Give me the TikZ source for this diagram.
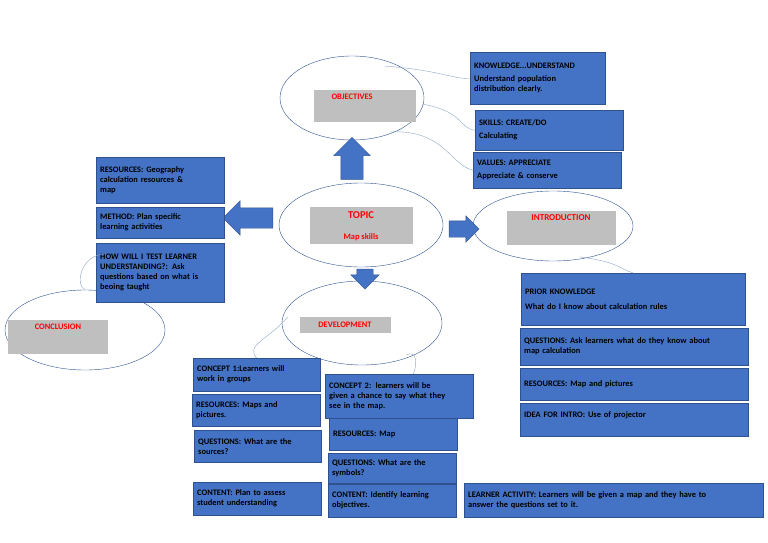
\documentclass[tikz,border=0pt]{standalone}
\usepackage{fontspec}
\setmainfont{Carlito}
\usetikzlibrary{shapes.arrows,shapes.geometric,positioning}
\definecolor{boxblue}{HTML}{4472C4}
\definecolor{boxline}{HTML}{2F528F}
\definecolor{linkgray}{HTML}{8EA6C8}
\begin{document}
\begin{tikzpicture}[x=1pt,y=-1pt,
        box/.style={draw=boxline, fill=boxblue, anchor=north west, align=left, inner sep=4pt,
                font=\fontsize{8.4}{10}\selectfont\bfseries, text=black},
        oval/.style={draw=boxline, ellipse, thin},
        tag/.style={fill=black!25, anchor=north west, inner sep=0pt},
        lbl/.style={text=red, font=\fontsize{8.4}{9}\selectfont\bfseries},
        blk/.style={single arrow, draw=boxline, fill=boxblue, minimum height=#1,
                inner xsep=0pt, inner ysep=10pt, single arrow head extend=7pt},
        link/.style={draw=linkgray, thin}]
        \useasboundingbox (0,0) rectangle (768,543);
        % the five ovals
        \node[oval, minimum width=144, minimum height=84] (obj) at (352,98) {};
        \node[oval, minimum width=164, minimum height=84] (topic) at (361,225) {};
        \node[oval, minimum width=160, minimum height=70] (intro) at (553,226) {};
        \node[oval, minimum width=160, minimum height=84] (dev) at (362,323) {};
        \node[oval, minimum width=160, minimum height=80] (concl) at (85,330) {};

        % grey labels inside the ovals
        \node[tag, minimum width=102, minimum height=32] (tobj) at (314,90) {};
        \node[lbl] (nobj) at (352,97) {OBJECTIVES};
        \node[tag, minimum width=103, minimum height=37] (ttopic) at (310,207) {};
        \node[lbl, font=\fontsize{10.5}{11}\selectfont\bfseries] (ntopic) at (361,215) {TOPIC};
        \node[lbl] (nmap) at (361,237) {Map skills};
        \node[tag, minimum width=109, minimum height=34] (tintro) at (507,211) {};
        \node[lbl, font=\fontsize{9}{9}\selectfont\bfseries] (nintro) at (561,218) {INTRODUCTION};
        \node[tag, minimum width=91, minimum height=16] (tdev) at (300,317) {};
        \node[lbl] (ndev) at (345,325) {DEVELOPMENT};
        \node[tag, minimum width=100, minimum height=34] (tconcl) at (8,320) {};
        \node[lbl] (nconcl) at (58,327) {CONCLUSION};

        % block arrows out of the topic
        \node[blk=42, rotate=90, inner ysep=11pt] (aup) at (352,164) {};
        \node[blk=50, rotate=180] (aleft) at (253,218) {};
        \node[blk=30, inner ysep=8pt, single arrow head extend=5pt] (aright) at (460,229) {};
        \node[blk=20, rotate=-90, inner ysep=8pt, single arrow head extend=6pt] (adown) at (365,275) {};

        % objectives
        \node[box, text width=127, minimum height=52] (know) at (470,52)
                {KNOWLEDGE...UNDERSTAND\\[3pt]Understand population\\distribution clearly.};
        \node[box, text width=140, minimum height=40] (skill) at (475,110) {SKILLS: CREATE/DO\\[3pt]Calculating};
        \node[box, text width=140, minimum height=36] (value) at (473,152) {VALUES: APPRECIATE\\[3pt]Appreciate \& conserve};

        % left side
        \node[box, text width=120, minimum height=46] (res) at (96,157) {RESOURCES: Geography\\calculation resources \&\\map};
        \node[box, text width=120, minimum height=31] (meth) at (96,207) {METHOD: Plan specific\\learning activities};
        \node[box, text width=120, minimum height=59] (test) at (96,243)
                {HOW WILL I TEST LEARNER\\UNDERSTANDING?: Ask\\questions based on what is\\beoing taught};

        % introduction
        \node[box, text width=216, minimum height=52] (prior) at (521,273) {PRIOR KNOWLEDGE\\[5pt]What do I know about calculation rules};
        \node[box, text width=220, minimum height=37] (qint) at (520,328) {QUESTIONS: Ask learners what do they know about\\map calculation};
        \node[box, text width=220, minimum height=32] (rint) at (520,368) {RESOURCES: Map and pictures};
        \node[box, text width=220, minimum height=33] (idea) at (520,403) {IDEA FOR INTRO: Use of projector\\~};

        % development
        \node[box, text width=119, minimum height=33] (con1) at (193,358) {CONCEPT 1:Learners will\\work in groups};
        \node[box, text width=120, minimum height=32] (rdev) at (192,394) {RESOURCES: Maps and\\pictures.};
        \node[box, text width=119, minimum height=32] (qdev) at (194,430) {QUESTIONS: What are the\\sources?};
        \node[box, text width=120, minimum height=33] (cont1) at (193,482) {CONTENT: Plan to assess\\student understanding};
        \node[box, text width=140, minimum height=44] (con2) at (325,374) {CONCEPT 2: learners will be\\given a chance to say what they\\see in the map.};
        \node[box, text width=120, minimum height=32] (rmap) at (329,418) {RESOURCES: Map};
        \node[box, text width=120, minimum height=30] (qsym) at (328,453) {QUESTIONS: What are the\\symbols?};
        \node[box, text width=120, minimum height=33] (cont2) at (328,484) {CONTENT: Identify learning\\objectives.};
        \node[box, text width=291, minimum height=34] (act) at (464,483)
                {LEARNER ACTIVITY: Learners will be given a map and they have to\\answer the questions set to it.};

        % thin curved links
        \coordinate (devlo) at ([xshift=44pt,yshift=-32pt]dev.center);
        \draw[link] (obj.north east) ++(-18,-2) .. controls (440,70) and (455,80) .. (know.west);
        \draw[link] (obj.east) ++(-2,6) .. controls (465,112) and (458,128) .. (skill.west);
        \draw[link] (obj.south east) ++(-12,4) .. controls (445,130) and (450,165) .. (value.west);
        \draw[link] (intro.south east) ++(-30,6) .. controls (618,262) and (618,268) .. (prior.north);
        \draw[link] (dev.west) ++(6,-6) .. controls (268,340) and (245,345) .. (con1.north);
        \draw[link] (devlo) .. controls (416,350) and (418,362) .. ([xshift=-60pt]con2.north east);
        \draw[link] (meth.west) ++(10,31) .. controls (80,255) and (75,285) .. (concl.north);
\end{tikzpicture}
\end{document}
